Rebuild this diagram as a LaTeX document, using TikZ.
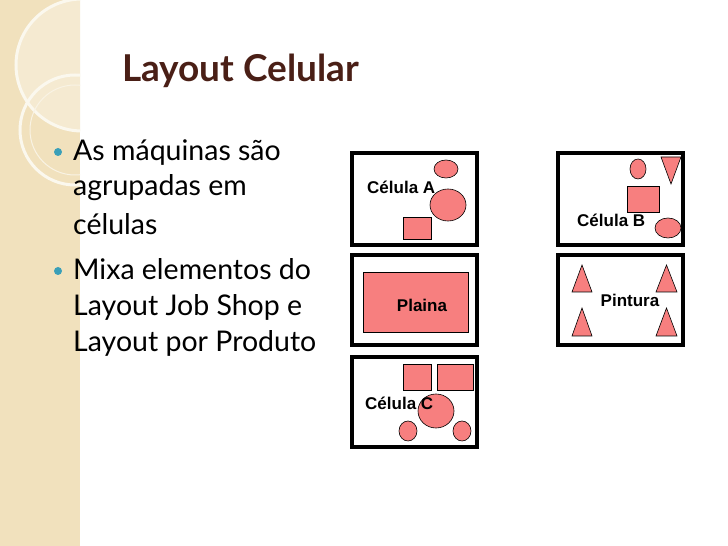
\documentclass[tikz,border=0pt]{standalone}
\usepackage{fontspec}
\setmainfont{Lato}
\newfontfamily\arial{Liberation Sans}
\usetikzlibrary{shapes.geometric}
\definecolor{beige}{HTML}{F1E1BD}
\definecolor{salmon}{HTML}{F77F7F}
\definecolor{titlec}{HTML}{4A1F16}
\definecolor{teal}{HTML}{3A9FB8}
\tikzset{
  x=1pt,y=1pt,
  cellbox/.style={draw=black,line width=4pt,fill=white},
  mach/.style={draw=black,line width=0.6pt,fill=salmon},
  lbl/.style={font=\arial\bfseries\fontsize{17}{19}\selectfont,inner sep=0pt},
  body/.style={font=\fontsize{28.5}{32}\selectfont,anchor=base west,inner sep=0pt},
  dot/.style={circle,fill=teal,inner sep=0pt,minimum size=8pt},
  ttl/.style={font=\bfseries\fontsize{37}{44}\selectfont,anchor=base west,inner sep=0pt}
}
\begin{document}
\begin{tikzpicture}
\useasboundingbox (0,0) rectangle (728,546);
\fill[white] (0,0) rectangle (728,546);
\fill[beige] (0,0) rectangle (80,546);
\begin{scope}
\clip (0,0) rectangle (80,546);
\fill[white!30!beige] (82,481) circle (66);
\draw[white!75!beige,line width=3pt] (82,481) circle (66);
\draw[white!75!beige,line width=3pt] (75,416) circle (55);
\draw[white!60!beige,line width=1pt] (75,416) circle (45);
\end{scope}
% title
\node[ttl,text=titlec] (title) at (122,464) {Layout Celular};
% bullets
\node[dot] (b1) at (58,394) {};
\node[dot] (b2) at (58,275) {};
\node[body] (t1) at (73,385) {As máquinas são};
\node[body] (t2) at (73,350) {agrupadas em};
\node[body] (t3) at (73,311) {células};
\node[body] (t4) at (73,266) {Mixa elementos do};
\node[body] (t5) at (73,230) {Layout Job Shop e};
\node[body] (t6) at (73,194) {Layout por Produto};
% Cell A
\draw[cellbox] (352,301) rectangle (477,393);
\draw[mach] (446,377) ellipse (12 and 9);
\draw[mach] (448,341) ellipse (18 and 16);
\draw[mach] (403,307) rectangle (431,329);
\node[lbl,anchor=west] (la) at (367,359) {Célula A};
% Plaina
\draw[cellbox] (352,201) rectangle (477,291);
\draw[mach] (363,214) rectangle (468,274);
\node[lbl] (lp) at (422,241) {Plaina};
% Cell C
\draw[cellbox] (352,99) rectangle (477,189);
\draw[mach] (403,156) rectangle (431,182);
\draw[mach] (437,156) rectangle (473,182);
\draw[mach] (436,135) ellipse (18 and 17);
\draw[mach] (408,115) ellipse (9 and 10);
\draw[mach] (462,115) ellipse (9 and 10);
\node[lbl,anchor=west] (lc) at (365,143) {Célula C};
% Cell B
\draw[cellbox] (558,301) rectangle (683,393);
\draw[mach] (638,377) ellipse (8 and 10);
\draw[mach] (661,389) -- (681,389) -- (671,362) -- cycle;
\draw[mach] (627,334) rectangle (659,360);
\draw[mach] (668,318) ellipse (13 and 10);
\node[lbl,anchor=west] (lb) at (577,326) {Célula B};
% Pintura
\draw[cellbox] (558,201) rectangle (683,291);
\draw[mach] (572,254) -- (592,254) -- (582,281) -- cycle;
\draw[mach] (656,254) -- (677,254) -- (666.5,281) -- cycle;
\draw[mach] (572,210) -- (592,210) -- (582,238) -- cycle;
\draw[mach] (656,210) -- (677,210) -- (666.5,238) -- cycle;
\node[lbl] (lpi) at (630,246) {Pintura};
\end{tikzpicture}
\end{document}
